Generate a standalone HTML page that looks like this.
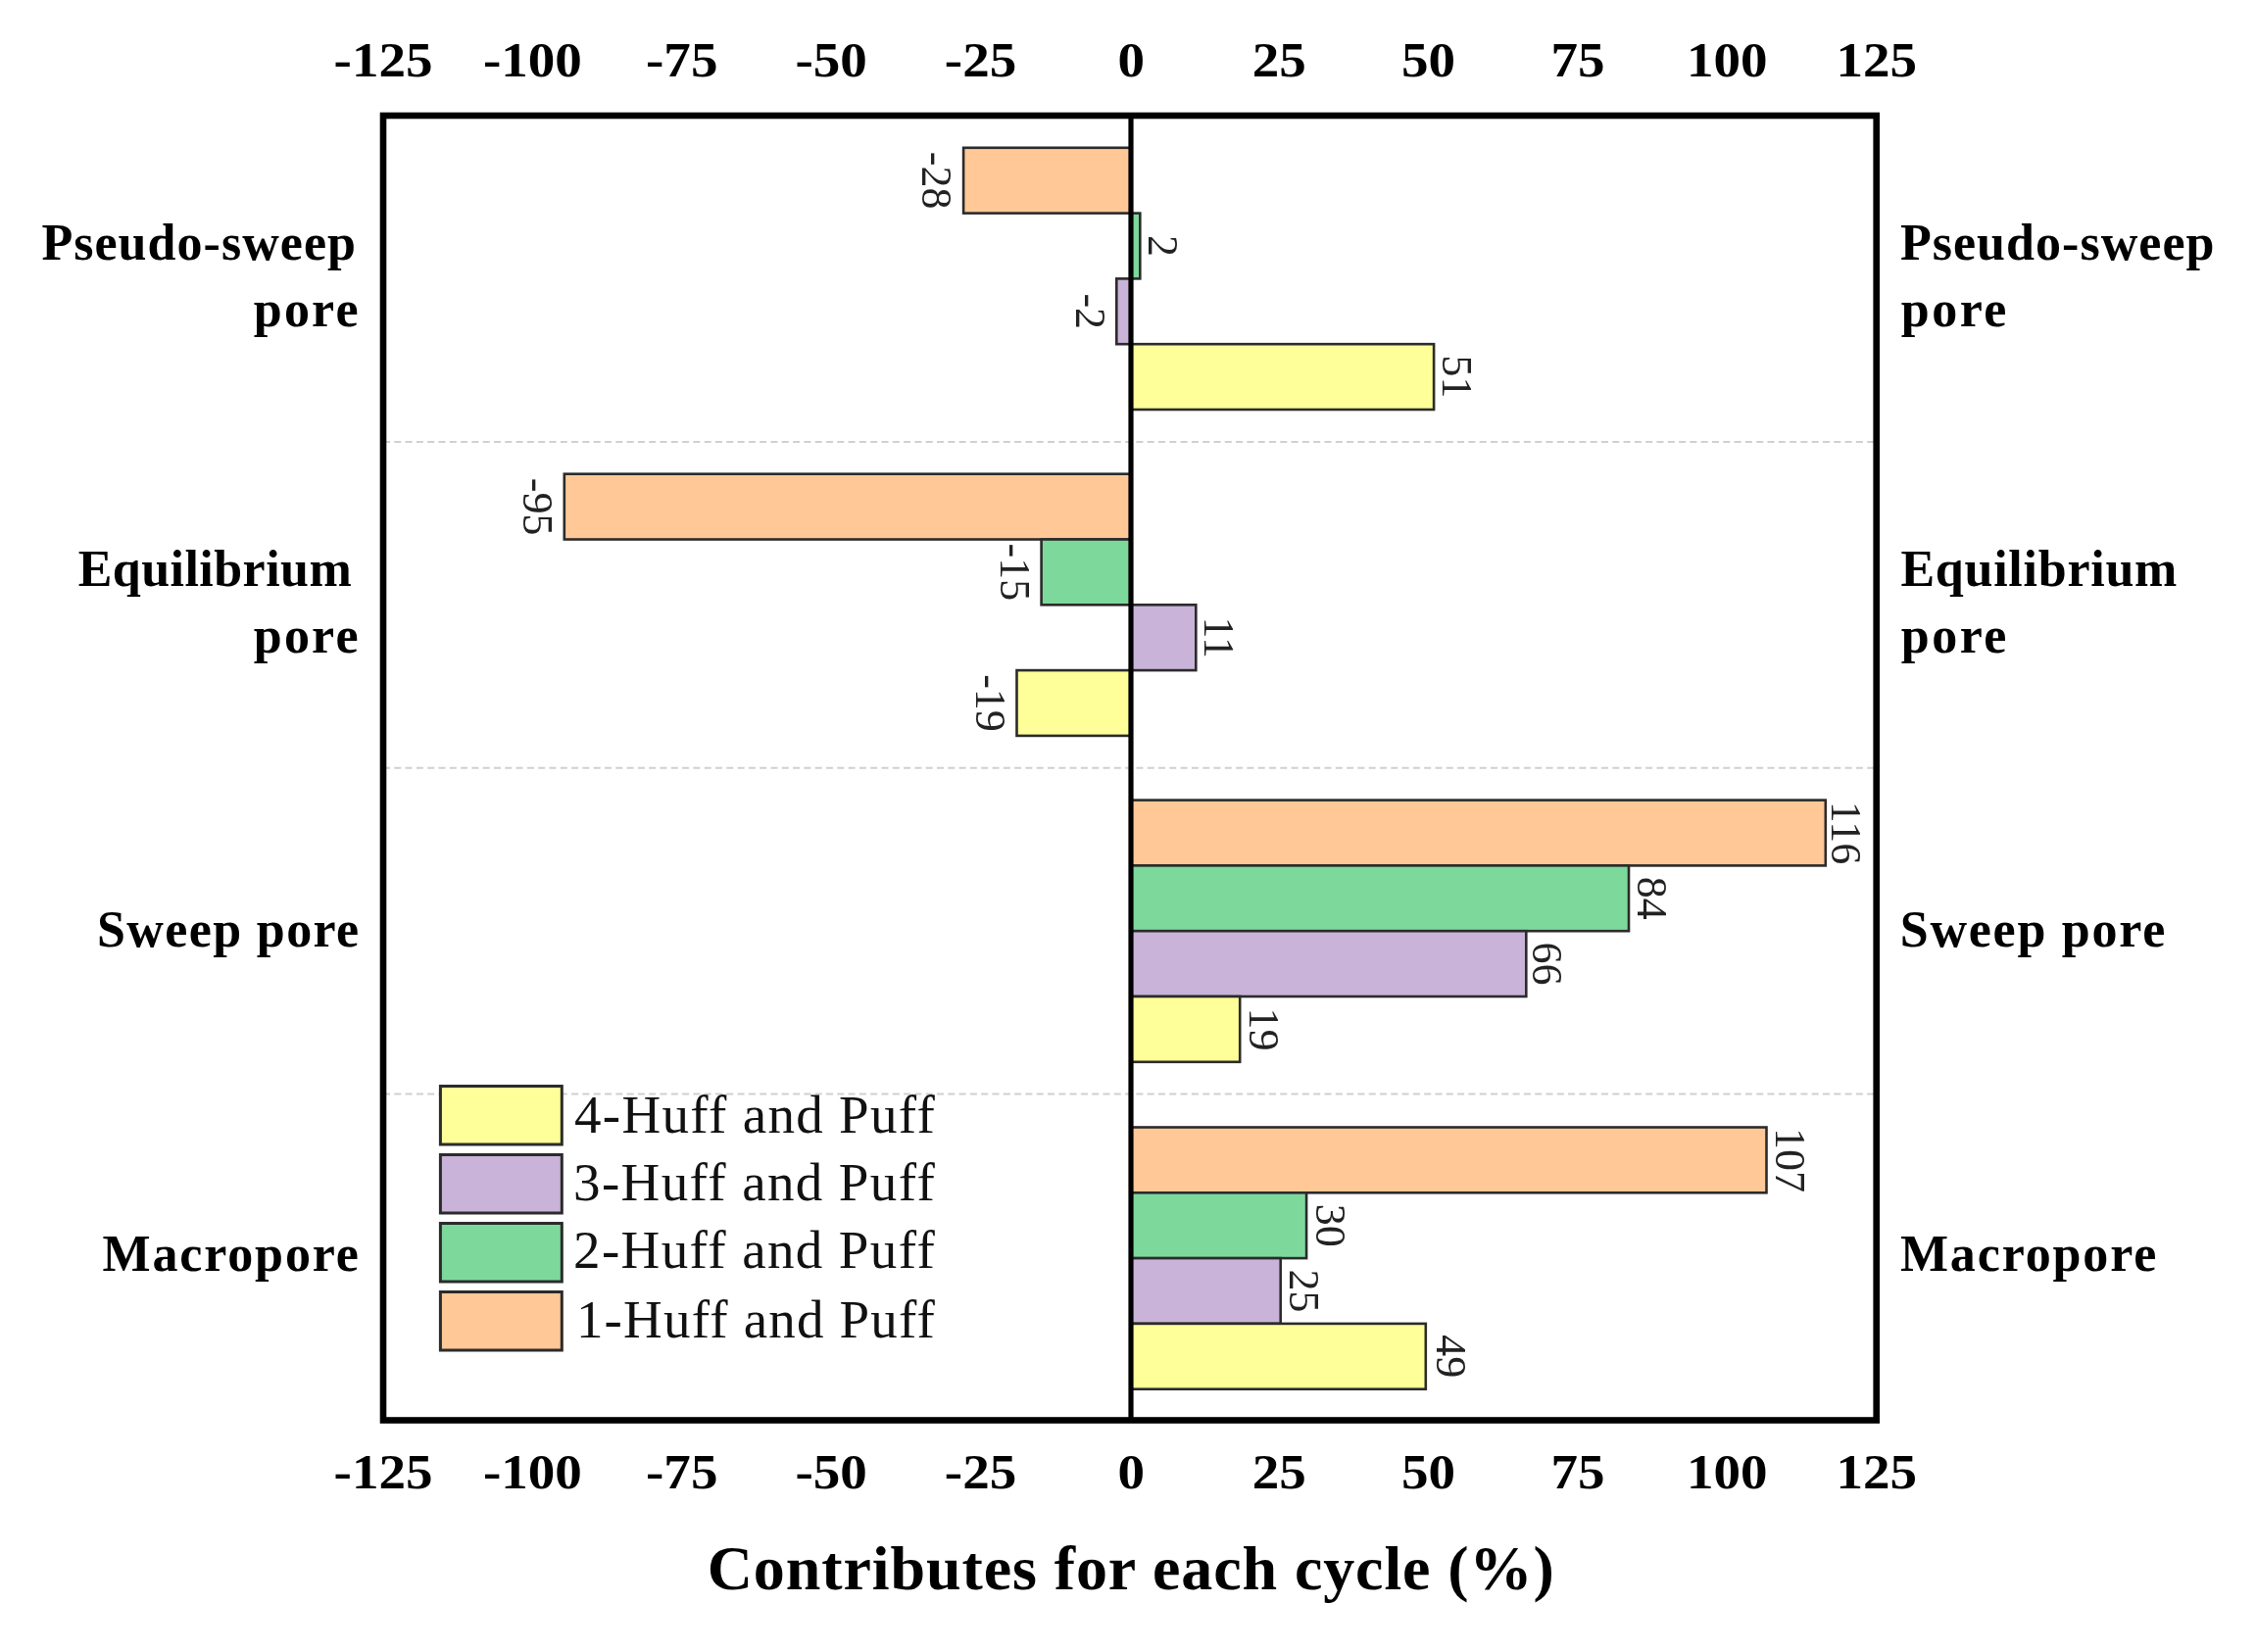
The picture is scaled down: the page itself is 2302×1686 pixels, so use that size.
<!DOCTYPE html>
<html lang="en"><head><meta charset="utf-8"><title>Contributes for each cycle</title>
<style>html,body{margin:0;padding:0;background:#fff}svg{display:block;filter:blur(0.6px)}text{font-family:"Liberation Serif","Times New Roman",serif;fill:#000}.v{font-size:44px;fill:#222}.k{font-size:51px;font-weight:bold}.t{font-size:52px;font-weight:bold}.l{font-size:55px;fill:#111}.c{font-size:64px;font-weight:bold}</style>
</head><body>
<svg width="2302" height="1686" viewBox="0 0 2302 1686">
<rect x="0" y="0" width="2302" height="1686" fill="#ffffff"/>
<line x1="391.0" y1="450.9" x2="1914.7" y2="450.9" stroke="#d0d0d0" stroke-width="2" stroke-dasharray="7 4.3"/>
<line x1="391.0" y1="783.8" x2="1914.7" y2="783.8" stroke="#d0d0d0" stroke-width="2" stroke-dasharray="7 4.3"/>
<line x1="391.0" y1="1116.6" x2="1914.7" y2="1116.6" stroke="#d0d0d0" stroke-width="2" stroke-dasharray="7 4.3"/>
<rect x="983.1" y="150.8" width="170.9" height="66.8" fill="#FFC896" stroke="#2b2b2b" stroke-width="2.6"/>
<rect x="1154.0" y="217.6" width="9.3" height="66.8" fill="#7DD99B" stroke="#2b2b2b" stroke-width="2.6"/>
<rect x="1139.3" y="284.4" width="14.7" height="66.8" fill="#C9B3D9" stroke="#2b2b2b" stroke-width="2.6"/>
<rect x="1154.0" y="351.2" width="309.1" height="66.8" fill="#FFFF99" stroke="#2b2b2b" stroke-width="2.6"/>
<rect x="575.8" y="483.7" width="578.2" height="66.8" fill="#FFC896" stroke="#2b2b2b" stroke-width="2.6"/>
<rect x="1062.6" y="550.5" width="91.4" height="66.8" fill="#7DD99B" stroke="#2b2b2b" stroke-width="2.6"/>
<rect x="1154.0" y="617.3" width="66.3" height="66.8" fill="#C9B3D9" stroke="#2b2b2b" stroke-width="2.6"/>
<rect x="1037.5" y="684.1" width="116.5" height="66.8" fill="#FFFF99" stroke="#2b2b2b" stroke-width="2.6"/>
<rect x="1154.0" y="816.6" width="708.8" height="66.8" fill="#FFC896" stroke="#2b2b2b" stroke-width="2.6"/>
<rect x="1154.0" y="883.4" width="508.0" height="66.8" fill="#7DD99B" stroke="#2b2b2b" stroke-width="2.6"/>
<rect x="1154.0" y="950.2" width="403.3" height="66.8" fill="#C9B3D9" stroke="#2b2b2b" stroke-width="2.6"/>
<rect x="1154.0" y="1017.0" width="111.2" height="66.8" fill="#FFFF99" stroke="#2b2b2b" stroke-width="2.6"/>
<rect x="1154.0" y="1150.5" width="648.5" height="66.8" fill="#FFC896" stroke="#2b2b2b" stroke-width="2.6"/>
<rect x="1154.0" y="1217.3" width="179.1" height="66.8" fill="#7DD99B" stroke="#2b2b2b" stroke-width="2.6"/>
<rect x="1154.0" y="1284.1" width="152.7" height="66.8" fill="#C9B3D9" stroke="#2b2b2b" stroke-width="2.6"/>
<rect x="1154.0" y="1350.9" width="300.8" height="66.8" fill="#FFFF99" stroke="#2b2b2b" stroke-width="2.6"/>
<line x1="1154.0" y1="118.0" x2="1154.0" y2="1449.5" stroke="#000" stroke-width="5.2"/>
<rect x="391.0" y="118.0" width="1523.7" height="1331.5" fill="none" stroke="#000" stroke-width="6.6"/>
<text class="v" text-anchor="middle" transform="translate(941.3,184.2) rotate(90)">-28</text>
<text class="v" text-anchor="middle" transform="translate(1171.6,251.0) rotate(90)">2</text>
<text class="v" text-anchor="middle" transform="translate(1097.5,317.8) rotate(90)">-2</text>
<text class="v" text-anchor="middle" transform="translate(1472.4,384.6) rotate(90)">51</text>
<text class="v" text-anchor="middle" transform="translate(534.0,517.1) rotate(90)">-95</text>
<text class="v" text-anchor="middle" transform="translate(1020.8,583.9) rotate(90)">-15</text>
<text class="v" text-anchor="middle" transform="translate(1228.6,650.7) rotate(90)">11</text>
<text class="v" text-anchor="middle" transform="translate(995.7,717.5) rotate(90)">-19</text>
<text class="v" text-anchor="middle" transform="translate(1869.1,850.0) rotate(90)">116</text>
<text class="v" text-anchor="middle" transform="translate(1671.3,916.8) rotate(90)">84</text>
<text class="v" text-anchor="middle" transform="translate(1563.6,983.6) rotate(90)">66</text>
<text class="v" text-anchor="middle" transform="translate(1275.0,1050.4) rotate(90)">19</text>
<text class="v" text-anchor="middle" transform="translate(1812.3,1183.9) rotate(90)">107</text>
<text class="v" text-anchor="middle" transform="translate(1343.4,1250.7) rotate(90)">30</text>
<text class="v" text-anchor="middle" transform="translate(1315.5,1317.5) rotate(90)">25</text>
<text class="v" text-anchor="middle" transform="translate(1466.1,1384.3) rotate(90)">49</text>
<text class="k" text-anchor="middle" transform="translate(391.0,78.3) scale(1.08,1)">-125</text>
<text class="k" text-anchor="middle" transform="translate(391.0,1518.8) scale(1.08,1)">-125</text>
<text class="k" text-anchor="middle" transform="translate(543.4,78.3) scale(1.08,1)">-100</text>
<text class="k" text-anchor="middle" transform="translate(543.4,1518.8) scale(1.08,1)">-100</text>
<text class="k" text-anchor="middle" transform="translate(695.7,78.3) scale(1.08,1)">-75</text>
<text class="k" text-anchor="middle" transform="translate(695.7,1518.8) scale(1.08,1)">-75</text>
<text class="k" text-anchor="middle" transform="translate(848.1,78.3) scale(1.08,1)">-50</text>
<text class="k" text-anchor="middle" transform="translate(848.1,1518.8) scale(1.08,1)">-50</text>
<text class="k" text-anchor="middle" transform="translate(1000.5,78.3) scale(1.08,1)">-25</text>
<text class="k" text-anchor="middle" transform="translate(1000.5,1518.8) scale(1.08,1)">-25</text>
<text class="k" text-anchor="middle" transform="translate(1154.3,78.3) scale(1.08,1)">0</text>
<text class="k" text-anchor="middle" transform="translate(1154.3,1518.8) scale(1.08,1)">0</text>
<text class="k" text-anchor="middle" transform="translate(1305.2,78.3) scale(1.08,1)">25</text>
<text class="k" text-anchor="middle" transform="translate(1305.2,1518.8) scale(1.08,1)">25</text>
<text class="k" text-anchor="middle" transform="translate(1457.6,78.3) scale(1.08,1)">50</text>
<text class="k" text-anchor="middle" transform="translate(1457.6,1518.8) scale(1.08,1)">50</text>
<text class="k" text-anchor="middle" transform="translate(1610.0,78.3) scale(1.08,1)">75</text>
<text class="k" text-anchor="middle" transform="translate(1610.0,1518.8) scale(1.08,1)">75</text>
<text class="k" text-anchor="middle" transform="translate(1762.3,78.3) scale(1.08,1)">100</text>
<text class="k" text-anchor="middle" transform="translate(1762.3,1518.8) scale(1.08,1)">100</text>
<text class="k" text-anchor="middle" transform="translate(1914.7,78.3) scale(1.08,1)">125</text>
<text class="k" text-anchor="middle" transform="translate(1914.7,1518.8) scale(1.08,1)">125</text>
<rect x="449.4" y="1108.5" width="123.9" height="59.5" fill="#FFFF99" stroke="#2b2b2b" stroke-width="3"/>
<rect x="449.4" y="1178.5" width="123.9" height="59.5" fill="#C9B3D9" stroke="#2b2b2b" stroke-width="3"/>
<rect x="449.4" y="1248.5" width="123.9" height="59.5" fill="#7DD99B" stroke="#2b2b2b" stroke-width="3"/>
<rect x="449.4" y="1318.5" width="123.9" height="59.5" fill="#FFC896" stroke="#2b2b2b" stroke-width="3"/>
<text class="t" x="42.4" y="265.1" letter-spacing="1.04">Pseudo-sweep</text>
<text class="t" x="258.8" y="332.5" letter-spacing="2.20">pore</text>
<text class="t" x="79.7" y="598.0" letter-spacing="0.45">Equilibrium</text>
<text class="t" x="258.8" y="665.7" letter-spacing="2.20">pore</text>
<text class="t" x="99.0" y="966.2" letter-spacing="1.38">Sweep pore</text>
<text class="t" x="104.5" y="1297.2" letter-spacing="1.86">Macropore</text>
<text class="t" x="1938.9" y="265.1" letter-spacing="1.04">Pseudo-sweep</text>
<text class="t" x="1939.8" y="332.5" letter-spacing="2.50">pore</text>
<text class="t" x="1939.4" y="598.0" letter-spacing="0.75">Equilibrium</text>
<text class="t" x="1939.8" y="665.7" letter-spacing="2.50">pore</text>
<text class="t" x="1938.7" y="966.2" letter-spacing="1.77">Sweep pore</text>
<text class="t" x="1938.9" y="1297.2" letter-spacing="1.86">Macropore</text>
<text class="l" x="586.0" y="1155.8" letter-spacing="1.32">4-Huff and Puff</text>
<text class="l" x="585.0" y="1225.0" letter-spacing="1.39">3-Huff and Puff</text>
<text class="l" x="585.0" y="1293.5" letter-spacing="1.39">2-Huff and Puff</text>
<text class="l" x="587.9" y="1364.6" letter-spacing="1.19">1-Huff and Puff</text>
<text class="c" x="721.7" y="1621.8" letter-spacing="0.91">Contributes for each cycle (%)</text>
</svg>
</body></html>
